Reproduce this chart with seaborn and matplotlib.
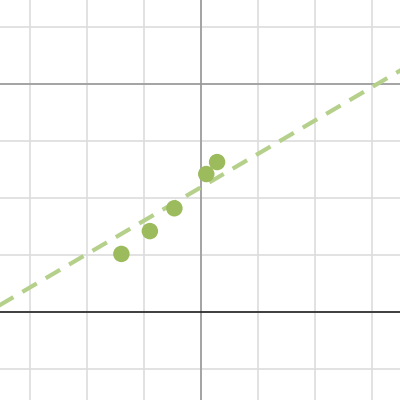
import numpy as np
import pandas as pd
import matplotlib.pyplot as plt
import seaborn as sns

# scatter points
pts_x = [-1.40, -0.90, -0.47, 0.09, 0.28]
pts_y = [1.02, 1.42, 1.82, 2.42, 2.63]

# fitted line
slope = 0.585
intercept = 2.19
line_x = [-3.6, 3.6]

sns.set_style("white")
fig = plt.figure(figsize=(4, 4), dpi=100)
ax = fig.add_axes([0, 0, 1, 1])

for v in range(-4, 5):
    ax.axvline(v, color="#dddddd", lw=1.2, zorder=0)
for v in range(-2, 7):
    ax.axhline(v, color="#dddddd", lw=1.2, zorder=0)
ax.axhline(4, color="#999999", lw=1.2, zorder=1)
ax.axvline(0, color="#999999", lw=1.2, zorder=1)
ax.axhline(0, color="#222222", lw=1.2, zorder=1)

lx = np.array(line_x)
sns.lineplot(x=lx, y=slope * lx + intercept, ax=ax, color="#b5d08a",
             lw=3, linestyle=(0, (4, 2.5)), zorder=2)
sns.scatterplot(x=pts_x, y=pts_y, ax=ax, color="#9bbb5c", s=140,
                edgecolor="none", zorder=3)

ax.set_xlim(-3.53, 3.49)
ax.set_ylim(-1.54, 5.47)
ax.set_xticks([])
ax.set_yticks([])
for s in ax.spines.values():
    s.set_visible(False)
fig.savefig("out.png", dpi=100)
